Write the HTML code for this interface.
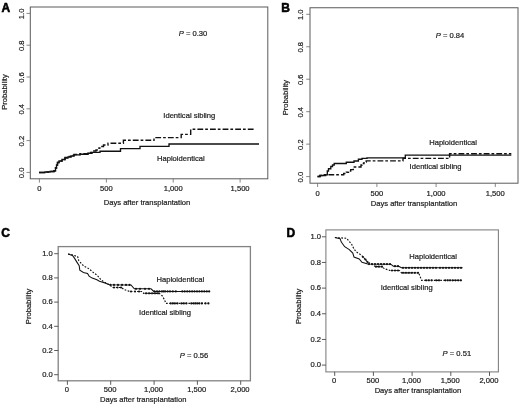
<!DOCTYPE html>
<html><head><meta charset="utf-8"><title>Figure</title>
<style>
html,body{margin:0;padding:0;background:#fff;}
svg{display:block;}
text{font-family:"Liberation Sans", Arial, sans-serif;fill:#1a1a1a;stroke:#1a1a1a;stroke-width:0.2;}
.pl{fill:#000;stroke:#000;stroke-width:0.55;}
.box{fill:none;stroke:#5a5a5a;stroke-width:1;}
.tick{stroke:#6a6a6a;stroke-width:0.8;}
.box2{fill:none;stroke:#828282;}
.tick2{stroke:#4a4a4a;stroke-width:0.9;}
.sa{fill:none;stroke:#111;stroke-width:1.35;}
.da{fill:none;stroke:#111;stroke-width:1.4;stroke-dasharray:5.8 2 2.7 2.1;}
.sc{fill:none;stroke:#111;stroke-width:1.05;}
.dc{fill:none;stroke:#111;stroke-width:1.15;stroke-dasharray:1.7 1.5;}
.dot{fill:#111;}
</style></head>
<body>
<svg width="520" height="404" viewBox="0 0 520 404">
<rect width="520" height="404" fill="#fff"/>
<text x="1.5" y="11.5" font-size="12" text-anchor="start" font-weight="bold" class="pl">A</text>
<rect x="30.3" y="7" width="237.5" height="171.8" class="box"/>
<line x1="26.5" y1="172.4" x2="30.3" y2="172.4" class="tick"/>
<text x="24.0" y="172.9" font-size="7.6" text-anchor="middle" transform="rotate(-90 24.0 172.9)">0.0</text>
<line x1="26.5" y1="140.6" x2="30.3" y2="140.6" class="tick"/>
<text x="24.0" y="141.1" font-size="7.6" text-anchor="middle" transform="rotate(-90 24.0 141.1)">0.2</text>
<line x1="26.5" y1="108.80000000000001" x2="30.3" y2="108.80000000000001" class="tick"/>
<text x="24.0" y="109.30000000000001" font-size="7.6" text-anchor="middle" transform="rotate(-90 24.0 109.30000000000001)">0.4</text>
<line x1="26.5" y1="77.00000000000001" x2="30.3" y2="77.00000000000001" class="tick"/>
<text x="24.0" y="77.50000000000001" font-size="7.6" text-anchor="middle" transform="rotate(-90 24.0 77.50000000000001)">0.6</text>
<line x1="26.5" y1="45.2" x2="30.3" y2="45.2" class="tick"/>
<text x="24.0" y="45.7" font-size="7.6" text-anchor="middle" transform="rotate(-90 24.0 45.7)">0.8</text>
<line x1="26.5" y1="13.400000000000006" x2="30.3" y2="13.400000000000006" class="tick"/>
<text x="24.0" y="13.900000000000006" font-size="7.6" text-anchor="middle" transform="rotate(-90 24.0 13.900000000000006)">1.0</text>
<line x1="39.4" y1="178.8" x2="39.4" y2="182.60000000000002" class="tick"/>
<text x="39.4" y="191.4" font-size="7.6" text-anchor="middle">0</text>
<line x1="106.4" y1="178.8" x2="106.4" y2="182.60000000000002" class="tick"/>
<text x="106.4" y="191.4" font-size="7.6" text-anchor="middle">500</text>
<line x1="173.2" y1="178.8" x2="173.2" y2="182.60000000000002" class="tick"/>
<text x="173.2" y="191.4" font-size="7.6" text-anchor="middle">1,000</text>
<line x1="240.1" y1="178.8" x2="240.1" y2="182.60000000000002" class="tick"/>
<text x="240.1" y="191.4" font-size="7.6" text-anchor="middle">1,500</text>
<text x="7.4" y="92" font-size="7.6" text-anchor="middle" transform="rotate(-90 7.4 92)">Probability</text>
<text x="147" y="205" font-size="7.6" text-anchor="middle">Days after transplantation</text>
<path d="M39.0 172.5H45.0V172.0H50.0V171.5H54.0V170.8H55.5V168.0H56.5V165.0H57.5V162.5H59.0V161.0H62.0V159.5H65.0V158.0H68.0V157.0H71.0V156.0H74.0V154.8H80.0V154.2H88.0V153.2H92.0V152.3H100.0V151.2H120.5V148.6H140.0V146.3H169.0V144.0H259.0V144.0" class="sa"/>
<path d="M39.0 172.5H45.0V172.0H50.0V171.5H54.0V170.8H55.5V168.0H56.5V165.0H57.5V162.5H59.0V161.0H62.0V159.5H65.0V157.5H68.0V156.5H71.0V155.5H74.0V154.5H80.0V153.8H88.0V152.5H92.0V151.0H96.0V150.0H99.0V148.0H101.0V146.5H103.5V145.0H108.0V143.2H123.4V140.3H154.0V137.6H181.2V134.4H190.7V129.3H254.3V129.3" class="da"/>
<text x="163.3" y="118.3" font-size="7.6" text-anchor="start">Identical sibling</text>
<text x="157" y="161" font-size="7.6" text-anchor="start">Haploidentical</text>
<text x="178.8" y="35.5" font-size="7.6"><tspan font-style="italic">P</tspan> = 0.30</text>
<text x="281.3" y="11.5" font-size="12" text-anchor="start" font-weight="bold" class="pl">B</text>
<rect x="310" y="7.75" width="208" height="175.45" class="box"/>
<line x1="306.2" y1="176.6" x2="310" y2="176.6" class="tick"/>
<text x="303.3" y="177.1" font-size="7.6" text-anchor="middle" transform="rotate(-90 303.3 177.1)">0.0</text>
<line x1="306.2" y1="144.14" x2="310" y2="144.14" class="tick"/>
<text x="303.3" y="144.64" font-size="7.6" text-anchor="middle" transform="rotate(-90 303.3 144.64)">0.2</text>
<line x1="306.2" y1="111.67999999999999" x2="310" y2="111.67999999999999" class="tick"/>
<text x="303.3" y="112.17999999999999" font-size="7.6" text-anchor="middle" transform="rotate(-90 303.3 112.17999999999999)">0.4</text>
<line x1="306.2" y1="79.21999999999998" x2="310" y2="79.21999999999998" class="tick"/>
<text x="303.3" y="79.71999999999998" font-size="7.6" text-anchor="middle" transform="rotate(-90 303.3 79.71999999999998)">0.6</text>
<line x1="306.2" y1="46.75999999999999" x2="310" y2="46.75999999999999" class="tick"/>
<text x="303.3" y="47.25999999999999" font-size="7.6" text-anchor="middle" transform="rotate(-90 303.3 47.25999999999999)">0.8</text>
<line x1="306.2" y1="14.299999999999983" x2="310" y2="14.299999999999983" class="tick"/>
<text x="303.3" y="14.799999999999983" font-size="7.6" text-anchor="middle" transform="rotate(-90 303.3 14.799999999999983)">1.0</text>
<line x1="317.6" y1="183.2" x2="317.6" y2="187.0" class="tick"/>
<text x="317.6" y="195.9" font-size="7.6" text-anchor="middle">0</text>
<line x1="376.9" y1="183.2" x2="376.9" y2="187.0" class="tick"/>
<text x="376.9" y="195.9" font-size="7.6" text-anchor="middle">500</text>
<line x1="436.1" y1="183.2" x2="436.1" y2="187.0" class="tick"/>
<text x="436.1" y="195.9" font-size="7.6" text-anchor="middle">1,000</text>
<line x1="495.3" y1="183.2" x2="495.3" y2="187.0" class="tick"/>
<text x="495.3" y="195.9" font-size="7.6" text-anchor="middle">1,500</text>
<text x="288.3" y="97.6" font-size="7.6" text-anchor="middle" transform="rotate(-90 288.3 97.6)">Probability</text>
<text x="414" y="206.4" font-size="7.6" text-anchor="middle">Days after transplantation</text>
<path d="M317.5 176.5H320.0V175.5H325.6V174.8H327.3V171.0H328.5V168.7H330.8V166.5H332.5V165.0H334.2V163.5H346.3V162.2H354.0V161.0H358.4V159.2H362.0V158.4H367.0V157.8H405.3V155.1H511.3V155.1" class="sa"/>
<path d="M317.5 176.5H320.0V175.5H322.0V174.8H343.7V173.5H346.3V172.2H348.5V171.0H350.7V169.6H353.3V167.0H361.0V165.0H362.0V163.5H364.0V162.0H366.2V160.9H403.0V158.4H449.6V153.7H511.3V153.7" class="da"/>
<text x="429.2" y="145" font-size="7.6" text-anchor="start">Haploidentical</text>
<text x="409.6" y="168.6" font-size="7.6" text-anchor="start">Identical sibling</text>
<text x="435.8" y="37.9" font-size="7.6"><tspan font-style="italic">P</tspan> = 0.84</text>
<text x="1.3" y="236.8" font-size="12" text-anchor="start" font-weight="bold" class="pl">C</text>
<rect x="58.2" y="246.6" width="192.2" height="134.20000000000002" class="box2" stroke-width="1.3"/>
<line x1="54.2" y1="374.7" x2="58.2" y2="374.7" class="tick2"/>
<text x="52.7" y="377.0" font-size="7.6" text-anchor="end">0.0</text>
<line x1="54.2" y1="350.5" x2="58.2" y2="350.5" class="tick2"/>
<text x="52.7" y="352.8" font-size="7.6" text-anchor="end">0.2</text>
<line x1="54.2" y1="326.29999999999995" x2="58.2" y2="326.29999999999995" class="tick2"/>
<text x="52.7" y="328.59999999999997" font-size="7.6" text-anchor="end">0.4</text>
<line x1="54.2" y1="302.1" x2="58.2" y2="302.1" class="tick2"/>
<text x="52.7" y="304.40000000000003" font-size="7.6" text-anchor="end">0.6</text>
<line x1="54.2" y1="277.9" x2="58.2" y2="277.9" class="tick2"/>
<text x="52.7" y="280.2" font-size="7.6" text-anchor="end">0.8</text>
<line x1="54.2" y1="253.7" x2="58.2" y2="253.7" class="tick2"/>
<text x="52.7" y="256.0" font-size="7.6" text-anchor="end">1.0</text>
<line x1="67.4" y1="380.8" x2="67.4" y2="384.8" class="tick2"/>
<text x="66.80000000000001" y="392.0" font-size="7.6" text-anchor="middle">0</text>
<line x1="110.7" y1="380.8" x2="110.7" y2="384.8" class="tick2"/>
<text x="110.10000000000001" y="392.0" font-size="7.6" text-anchor="middle">500</text>
<line x1="154.1" y1="380.8" x2="154.1" y2="384.8" class="tick2"/>
<text x="153.5" y="392.0" font-size="7.6" text-anchor="middle">1,000</text>
<line x1="197.4" y1="380.8" x2="197.4" y2="384.8" class="tick2"/>
<text x="196.8" y="392.0" font-size="7.6" text-anchor="middle">1,500</text>
<line x1="240.7" y1="380.8" x2="240.7" y2="384.8" class="tick2"/>
<text x="240.1" y="392.0" font-size="7.6" text-anchor="middle">2,000</text>
<text x="31.4" y="306.4" font-size="7.6" text-anchor="middle" transform="rotate(-90 31.4 306.4)">Probability</text>
<text x="143.2" y="401.9" font-size="7.6" text-anchor="middle">Days after transplantation</text>
<path d="M68.1 254.0L72.5 255.5L74.6 258.4L77.2 262.6L79.2 265.7L79.8 270.3L83.4 272.4L87.5 273.5L89.1 276.1L92.2 278.1L96.9 279.7L99.5 281.3L105.7 283.3L109.4 284.8L131.0 285.0L134.3 288.8L151.0 288.8L153.8 291.4L210.0 291.4" class="sc"/>
<path d="M68.1 254.0L73.0 255.0L77.7 256.8L78.7 260.5L81.3 263.6L84.4 266.5L87.5 267.8L90.7 270.3L93.8 272.9L97.4 275.5L100.5 279.2L103.7 281.8L109.4 284.8L112.8 287.5L121.5 287.5L124.0 289.5L129.6 291.5L141.7 291.5L143.7 293.3L159.2 293.3L162.6 296.2L164.5 300.0L166.0 303.4L209.0 303.4" class="dc"/>
<circle cx="154.5" cy="291.4" r="1.1" class="dot"/>
<circle cx="157.0" cy="291.4" r="1.1" class="dot"/>
<circle cx="159.4" cy="291.4" r="1.1" class="dot"/>
<circle cx="161.9" cy="291.4" r="1.1" class="dot"/>
<circle cx="163.5" cy="291.4" r="1.1" class="dot"/>
<circle cx="165.1" cy="291.4" r="1.1" class="dot"/>
<circle cx="167.6" cy="291.4" r="1.1" class="dot"/>
<circle cx="170.0" cy="291.4" r="1.1" class="dot"/>
<circle cx="172.8" cy="291.4" r="1.1" class="dot"/>
<circle cx="175.8" cy="291.4" r="1.1" class="dot"/>
<circle cx="182.3" cy="291.4" r="1.1" class="dot"/>
<circle cx="184.7" cy="291.4" r="1.1" class="dot"/>
<circle cx="187.2" cy="291.4" r="1.1" class="dot"/>
<circle cx="189.6" cy="291.4" r="1.1" class="dot"/>
<circle cx="192.1" cy="291.4" r="1.1" class="dot"/>
<circle cx="194.5" cy="291.4" r="1.1" class="dot"/>
<circle cx="197.0" cy="291.4" r="1.1" class="dot"/>
<circle cx="199.4" cy="291.4" r="1.1" class="dot"/>
<circle cx="201.9" cy="291.4" r="1.1" class="dot"/>
<circle cx="204.3" cy="291.4" r="1.1" class="dot"/>
<circle cx="206.8" cy="291.4" r="1.1" class="dot"/>
<circle cx="209.2" cy="291.4" r="1.1" class="dot"/>
<circle cx="110.5" cy="284.9" r="1.1" class="dot"/>
<circle cx="114.0" cy="284.9" r="1.1" class="dot"/>
<circle cx="118.0" cy="284.9" r="1.1" class="dot"/>
<circle cx="122.0" cy="284.9" r="1.1" class="dot"/>
<circle cx="126.0" cy="284.9" r="1.1" class="dot"/>
<circle cx="129.5" cy="284.9" r="1.1" class="dot"/>
<circle cx="136.0" cy="288.8" r="1.1" class="dot"/>
<circle cx="140.0" cy="288.8" r="1.1" class="dot"/>
<circle cx="145.0" cy="288.8" r="1.1" class="dot"/>
<circle cx="149.0" cy="288.8" r="1.1" class="dot"/>
<circle cx="114.0" cy="287.5" r="1.1" class="dot"/>
<circle cx="117.5" cy="287.5" r="1.1" class="dot"/>
<circle cx="121.0" cy="287.5" r="1.1" class="dot"/>
<circle cx="131.0" cy="291.5" r="1.1" class="dot"/>
<circle cx="135.0" cy="291.5" r="1.1" class="dot"/>
<circle cx="139.0" cy="291.5" r="1.1" class="dot"/>
<circle cx="146.0" cy="293.3" r="1.1" class="dot"/>
<circle cx="149.0" cy="293.3" r="1.1" class="dot"/>
<circle cx="152.0" cy="293.3" r="1.1" class="dot"/>
<circle cx="155.0" cy="293.3" r="1.1" class="dot"/>
<circle cx="158.0" cy="293.3" r="1.1" class="dot"/>
<circle cx="170.8" cy="303.4" r="1.1" class="dot"/>
<circle cx="172.8" cy="303.4" r="1.1" class="dot"/>
<circle cx="174.9" cy="303.4" r="1.1" class="dot"/>
<circle cx="177.4" cy="303.4" r="1.1" class="dot"/>
<circle cx="181.5" cy="303.4" r="1.1" class="dot"/>
<circle cx="183.9" cy="303.4" r="1.1" class="dot"/>
<circle cx="186.4" cy="303.4" r="1.1" class="dot"/>
<circle cx="191.3" cy="303.4" r="1.1" class="dot"/>
<circle cx="193.7" cy="303.4" r="1.1" class="dot"/>
<circle cx="195.4" cy="303.4" r="1.1" class="dot"/>
<circle cx="197.3" cy="303.4" r="1.1" class="dot"/>
<circle cx="199.4" cy="303.4" r="1.1" class="dot"/>
<circle cx="201.9" cy="303.4" r="1.1" class="dot"/>
<circle cx="205.5" cy="303.4" r="1.1" class="dot"/>
<circle cx="208.4" cy="303.4" r="1.1" class="dot"/>
<text x="156.5" y="282.3" font-size="7.6" text-anchor="start">Haploidentical</text>
<text x="139.1" y="314.7" font-size="7.6" text-anchor="start">Identical sibling</text>
<text x="179.7" y="358" font-size="7.6"><tspan font-style="italic">P</tspan> = 0.56</text>
<text x="286.6" y="236.8" font-size="12" text-anchor="start" font-weight="bold" class="pl">D</text>
<rect x="325.9" y="229.9" width="172.5" height="141.99999999999997" class="box2" stroke-width="1.1"/>
<line x1="321.9" y1="365.1" x2="325.9" y2="365.1" class="tick2"/>
<text x="321.0" y="367.40000000000003" font-size="7.6" text-anchor="end">0.0</text>
<line x1="321.9" y1="339.44" x2="325.9" y2="339.44" class="tick2"/>
<text x="321.0" y="341.74" font-size="7.6" text-anchor="end">0.2</text>
<line x1="321.9" y1="313.78000000000003" x2="325.9" y2="313.78000000000003" class="tick2"/>
<text x="321.0" y="316.08000000000004" font-size="7.6" text-anchor="end">0.4</text>
<line x1="321.9" y1="288.12" x2="325.9" y2="288.12" class="tick2"/>
<text x="321.0" y="290.42" font-size="7.6" text-anchor="end">0.6</text>
<line x1="321.9" y1="262.46000000000004" x2="325.9" y2="262.46000000000004" class="tick2"/>
<text x="321.0" y="264.76000000000005" font-size="7.6" text-anchor="end">0.8</text>
<line x1="321.9" y1="236.8" x2="325.9" y2="236.8" class="tick2"/>
<text x="321.0" y="239.10000000000002" font-size="7.6" text-anchor="end">1.0</text>
<line x1="334.7" y1="371.9" x2="334.7" y2="375.9" class="tick2"/>
<text x="334.09999999999997" y="382.7" font-size="7.6" text-anchor="middle">0</text>
<line x1="373.4" y1="371.9" x2="373.4" y2="375.9" class="tick2"/>
<text x="372.79999999999995" y="382.7" font-size="7.6" text-anchor="middle">500</text>
<line x1="412.1" y1="371.9" x2="412.1" y2="375.9" class="tick2"/>
<text x="411.5" y="382.7" font-size="7.6" text-anchor="middle">1,000</text>
<line x1="450.8" y1="371.9" x2="450.8" y2="375.9" class="tick2"/>
<text x="450.2" y="382.7" font-size="7.6" text-anchor="middle">1,500</text>
<line x1="489.5" y1="371.9" x2="489.5" y2="375.9" class="tick2"/>
<text x="488.9" y="382.7" font-size="7.6" text-anchor="middle">2,000</text>
<text x="301.1" y="306.3" font-size="7.6" text-anchor="middle" transform="rotate(-90 301.1 306.3)">Probability</text>
<text x="417.9" y="392.9" font-size="7.6" text-anchor="middle">Days after transplantation</text>
<path d="M334.9 237.5L340.1 238.7L341.3 242.1L344.7 246.7L349.3 249.6L352.8 253.1L354.0 257.1L359.2 258.9L362.0 262.3L367.8 264.0L390.7 264.2L393.4 266.2L398.7 266.2L401.4 267.8L462.6 267.8" class="sc"/>
<path d="M334.9 237.5L346.5 238.3L349.3 241.5L351.7 244.4L354.0 249.0L356.3 251.9L360.9 254.8L364.3 258.3L367.8 262.3L373.0 264.8L375.3 266.6L382.0 266.8L384.6 268.8L390.0 270.5L399.4 270.5L401.4 272.8L418.6 272.8L420.0 276.3L421.6 280.3L461.2 280.3" class="dc"/>
<circle cx="369.0" cy="264.1" r="1.1" class="dot"/>
<circle cx="372.0" cy="264.1" r="1.1" class="dot"/>
<circle cx="375.0" cy="264.1" r="1.1" class="dot"/>
<circle cx="378.0" cy="264.1" r="1.1" class="dot"/>
<circle cx="381.0" cy="264.1" r="1.1" class="dot"/>
<circle cx="384.0" cy="264.1" r="1.1" class="dot"/>
<circle cx="387.0" cy="264.1" r="1.1" class="dot"/>
<circle cx="390.0" cy="264.1" r="1.1" class="dot"/>
<circle cx="395.0" cy="266.2" r="1.1" class="dot"/>
<circle cx="398.0" cy="266.2" r="1.1" class="dot"/>
<circle cx="403.0" cy="267.8" r="1.1" class="dot"/>
<circle cx="406.0" cy="267.8" r="1.1" class="dot"/>
<circle cx="409.0" cy="267.8" r="1.1" class="dot"/>
<circle cx="412.0" cy="267.8" r="1.1" class="dot"/>
<circle cx="415.0" cy="267.8" r="1.1" class="dot"/>
<circle cx="418.0" cy="267.8" r="1.1" class="dot"/>
<circle cx="421.0" cy="267.8" r="1.1" class="dot"/>
<circle cx="424.0" cy="267.8" r="1.1" class="dot"/>
<circle cx="427.0" cy="267.8" r="1.1" class="dot"/>
<circle cx="430.0" cy="267.8" r="1.1" class="dot"/>
<circle cx="433.0" cy="267.8" r="1.1" class="dot"/>
<circle cx="436.0" cy="267.8" r="1.1" class="dot"/>
<circle cx="440.0" cy="267.8" r="1.1" class="dot"/>
<circle cx="443.0" cy="267.8" r="1.1" class="dot"/>
<circle cx="446.0" cy="267.8" r="1.1" class="dot"/>
<circle cx="449.0" cy="267.8" r="1.1" class="dot"/>
<circle cx="452.0" cy="267.8" r="1.1" class="dot"/>
<circle cx="455.0" cy="267.8" r="1.1" class="dot"/>
<circle cx="458.0" cy="267.8" r="1.1" class="dot"/>
<circle cx="461.0" cy="267.8" r="1.1" class="dot"/>
<circle cx="376.0" cy="266.7" r="1.1" class="dot"/>
<circle cx="379.0" cy="266.7" r="1.1" class="dot"/>
<circle cx="382.0" cy="266.7" r="1.1" class="dot"/>
<circle cx="363" cy="257" r="1.1" class="dot"/><circle cx="365.5" cy="259.6" r="1.1" class="dot"/><circle cx="367.5" cy="262" r="1.1" class="dot"/>
<circle cx="392.0" cy="270.5" r="1.1" class="dot"/>
<circle cx="395.0" cy="270.5" r="1.1" class="dot"/>
<circle cx="398.0" cy="270.5" r="1.1" class="dot"/>
<circle cx="403.0" cy="272.8" r="1.1" class="dot"/>
<circle cx="406.0" cy="272.8" r="1.1" class="dot"/>
<circle cx="409.0" cy="272.8" r="1.1" class="dot"/>
<circle cx="412.0" cy="272.8" r="1.1" class="dot"/>
<circle cx="415.0" cy="272.8" r="1.1" class="dot"/>
<circle cx="418.0" cy="272.8" r="1.1" class="dot"/>
<circle cx="426.2" cy="280.3" r="1.1" class="dot"/>
<circle cx="428.9" cy="280.3" r="1.1" class="dot"/>
<circle cx="431.7" cy="280.3" r="1.1" class="dot"/>
<circle cx="436.2" cy="280.3" r="1.1" class="dot"/>
<circle cx="439.0" cy="280.3" r="1.1" class="dot"/>
<circle cx="445.4" cy="280.3" r="1.1" class="dot"/>
<circle cx="447.8" cy="280.3" r="1.1" class="dot"/>
<circle cx="450.0" cy="280.3" r="1.1" class="dot"/>
<circle cx="452.7" cy="280.3" r="1.1" class="dot"/>
<circle cx="455.4" cy="280.3" r="1.1" class="dot"/>
<circle cx="458.2" cy="280.3" r="1.1" class="dot"/>
<circle cx="460.9" cy="280.3" r="1.1" class="dot"/>
<text x="409.3" y="259.4" font-size="7.6" text-anchor="start">Haploidentical</text>
<text x="380.7" y="290" font-size="7.6" text-anchor="start">Identical sibling</text>
<text x="442.6" y="355.7" font-size="7.6"><tspan font-style="italic">P</tspan> = 0.51</text>
</svg>
</body></html>
